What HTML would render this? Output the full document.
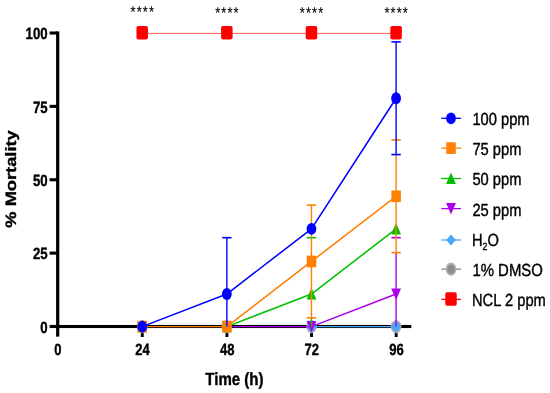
<!DOCTYPE html>
<html lang="en"><head><meta charset="utf-8"><title>% Mortality vs Time (h)</title>
<style>html,body{margin:0;padding:0;background:#fff}svg{display:block}text{font-family:"Liberation Sans", sans-serif;fill:#000;text-rendering:geometricPrecision}</style>
</head><body>
<svg width="550" height="393" viewBox="0 0 550 393">
<rect width="550" height="393" fill="#fff"/>
<g fill="#000">
<rect x="56.1" y="31.45" width="3.2" height="305.2"/>
<rect x="49.6" y="324.95" width="361.7" height="3.1"/>
<rect x="49.6" y="251.58" width="8" height="3.1"/>
<rect x="49.6" y="178.20" width="8" height="3.1"/>
<rect x="49.6" y="104.83" width="8" height="3.1"/>
<rect x="49.6" y="31.45" width="8" height="3.1"/>
<rect x="140.82" y="326" width="2.9" height="11"/>
<rect x="225.45" y="326" width="2.9" height="11"/>
<rect x="310.07" y="326" width="2.9" height="11"/>
<rect x="394.70" y="326" width="2.9" height="11"/>
</g>
<text transform="translate(47.60,332.90) scale(0.8120,1)" font-size="16.30" font-weight="700" text-anchor="end" stroke="#000" stroke-width="0.4" stroke-linejoin="round">0</text>
<text transform="translate(47.60,259.43) scale(0.8120,1)" font-size="16.30" font-weight="700" text-anchor="end" stroke="#000" stroke-width="0.4" stroke-linejoin="round">25</text>
<text transform="translate(47.60,186.10) scale(0.8120,1)" font-size="16.30" font-weight="700" text-anchor="end" stroke="#000" stroke-width="0.4" stroke-linejoin="round">50</text>
<text transform="translate(47.60,112.63) scale(0.8120,1)" font-size="16.30" font-weight="700" text-anchor="end" stroke="#000" stroke-width="0.4" stroke-linejoin="round">75</text>
<text transform="translate(47.60,38.85) scale(0.8120,1)" font-size="16.30" font-weight="700" text-anchor="end" stroke="#000" stroke-width="0.4" stroke-linejoin="round">100</text>
<text transform="translate(57.90,355.20) scale(0.8000,1)" font-size="16.30" font-weight="700" text-anchor="middle" stroke="#000" stroke-width="0.4" stroke-linejoin="round">0</text>
<text transform="translate(142.52,355.20) scale(0.8000,1)" font-size="16.30" font-weight="700" text-anchor="middle" stroke="#000" stroke-width="0.4" stroke-linejoin="round">24</text>
<text transform="translate(227.15,355.20) scale(0.8000,1)" font-size="16.30" font-weight="700" text-anchor="middle" stroke="#000" stroke-width="0.4" stroke-linejoin="round">48</text>
<text transform="translate(311.77,355.20) scale(0.8000,1)" font-size="16.30" font-weight="700" text-anchor="middle" stroke="#000" stroke-width="0.4" stroke-linejoin="round">72</text>
<text transform="translate(396.40,355.20) scale(0.8000,1)" font-size="16.30" font-weight="700" text-anchor="middle" stroke="#000" stroke-width="0.4" stroke-linejoin="round">96</text>
<text transform="translate(234.40,385.25) scale(0.8550,1)" font-size="17.60" font-weight="700" text-anchor="middle" stroke="#000" stroke-width="0.4" stroke-linejoin="round">Time (h)</text>
<text transform="translate(16.00,179.00) scale(0.8250,1) rotate(-90)" font-size="18.25" font-weight="700" text-anchor="middle" stroke="#000" stroke-width="0.4" stroke-linejoin="round">% Mortality</text>
<text transform="translate(130.52,16.65) scale(0.8250,1)" font-size="15.60" font-weight="400" text-anchor="start" letter-spacing="1.35" stroke="#000" stroke-width="0.2" stroke-linejoin="round">****</text>
<text transform="translate(215.15,18.15) scale(0.8250,1)" font-size="15.60" font-weight="400" text-anchor="start" letter-spacing="1.35" stroke="#000" stroke-width="0.2" stroke-linejoin="round">****</text>
<text transform="translate(299.77,18.15) scale(0.8250,1)" font-size="15.60" font-weight="400" text-anchor="start" letter-spacing="1.35" stroke="#000" stroke-width="0.2" stroke-linejoin="round">****</text>
<text transform="translate(384.40,18.15) scale(0.8250,1)" font-size="15.60" font-weight="400" text-anchor="start" letter-spacing="1.35" stroke="#000" stroke-width="0.2" stroke-linejoin="round">****</text>
<g>
<line x1="142.22" y1="33.4" x2="396.10" y2="33.4" stroke="#ff0000" stroke-width="0.65"/>
<rect x="136.47" y="25.90" width="11.5" height="13.5" rx="1.8" ry="1.8" fill="#ff0000"/>
<rect x="221.10" y="25.90" width="11.5" height="13.5" rx="1.8" ry="1.8" fill="#ff0000"/>
<rect x="305.72" y="25.90" width="11.5" height="13.5" rx="1.8" ry="1.8" fill="#ff0000"/>
<rect x="390.35" y="25.90" width="11.5" height="13.5" rx="1.8" ry="1.8" fill="#ff0000"/>
</g>
<g>
<ellipse cx="142.22" cy="326.60" rx="5.35" ry="6.6" fill="#b2b2b2"/>
<ellipse cx="142.22" cy="326.60" rx="3.9" ry="4.7" fill="#8c8c8c"/>
<ellipse cx="226.85" cy="326.60" rx="5.35" ry="6.6" fill="#b2b2b2"/>
<ellipse cx="226.85" cy="326.60" rx="3.9" ry="4.7" fill="#8c8c8c"/>
<ellipse cx="311.47" cy="326.60" rx="5.35" ry="6.6" fill="#b2b2b2"/>
<ellipse cx="311.47" cy="326.60" rx="3.9" ry="4.7" fill="#8c8c8c"/>
<ellipse cx="396.10" cy="326.60" rx="5.35" ry="6.6" fill="#b2b2b2"/>
<ellipse cx="396.10" cy="326.60" rx="3.9" ry="4.7" fill="#8c8c8c"/>
</g>
<g>
<line x1="311.47" y1="326.65" x2="396.10" y2="326.65" stroke="#4da6ff" stroke-width="1.3"/>
<polygon points="142.22,320.30 147.22,326.60 142.22,332.90 137.22,326.60" fill="#4da6ff"/>
<polygon points="226.85,320.30 231.85,326.60 226.85,332.90 221.85,326.60" fill="#4da6ff"/>
<polygon points="311.47,320.30 316.47,326.60 311.47,332.90 306.47,326.60" fill="#4da6ff"/>
<polygon points="396.10,320.30 401.10,326.60 396.10,332.90 391.10,326.60" fill="#4da6ff"/>
</g>
<g>
<line x1="396.10" y1="252.64" x2="396.10" y2="326.60" stroke="#aa00ee" stroke-width="1.4"/>
<line x1="391.40" y1="237.67" x2="400.80" y2="237.67" stroke="#aa00ee" stroke-width="1.6"/>
<line x1="226.85" y1="326.65" x2="311.47" y2="326.65" stroke="#aa00ee" stroke-width="1.3"/>
<polyline points="311.47,326.60 396.10,294.02" fill="none" stroke="#aa00ee" stroke-width="1.55" stroke-linejoin="round"/>
<polygon points="142.22,332.50 147.12,321.00 137.32,321.00" fill="#aa00ee"/>
<polygon points="226.85,332.50 231.75,321.00 221.95,321.00" fill="#aa00ee"/>
<polygon points="311.47,332.50 316.37,321.00 306.57,321.00" fill="#aa00ee"/>
<polygon points="396.10,299.92 401.00,288.42 391.20,288.42" fill="#aa00ee"/>
</g>
<g>
<line x1="311.47" y1="317.80" x2="311.47" y2="326.60" stroke="#00c000" stroke-width="1.4"/>
<line x1="306.77" y1="237.67" x2="316.17" y2="237.67" stroke="#00c000" stroke-width="1.6"/>
<polyline points="226.85,326.60 311.47,294.02 396.10,228.86" fill="none" stroke="#00c000" stroke-width="1.55" stroke-linejoin="round"/>
<polygon points="142.22,320.60 147.12,332.20 137.32,332.20" fill="#00c000"/>
<polygon points="226.85,320.60 231.75,332.20 221.95,332.20" fill="#00c000"/>
<polygon points="311.47,288.02 316.37,299.62 306.57,299.62" fill="#00c000"/>
<polygon points="396.10,222.86 401.00,234.46 391.20,234.46" fill="#00c000"/>
</g>
<g>
<line x1="311.47" y1="205.09" x2="311.47" y2="317.80" stroke="#ff8000" stroke-width="1.4"/>
<line x1="306.77" y1="205.09" x2="316.17" y2="205.09" stroke="#ff8000" stroke-width="1.6"/>
<line x1="306.77" y1="317.80" x2="316.17" y2="317.80" stroke="#ff8000" stroke-width="1.6"/>
<line x1="396.10" y1="154.61" x2="396.10" y2="252.64" stroke="#ff8000" stroke-width="1.4"/>
<line x1="391.40" y1="139.93" x2="400.80" y2="139.93" stroke="#ff8000" stroke-width="1.6"/>
<line x1="391.40" y1="252.64" x2="400.80" y2="252.64" stroke="#ff8000" stroke-width="1.6"/>
<line x1="142.22" y1="326.65" x2="226.85" y2="326.65" stroke="#ff8000" stroke-width="1.3"/>
<polyline points="226.85,326.60 311.47,261.44 396.10,196.29" fill="none" stroke="#ff8000" stroke-width="1.55" stroke-linejoin="round"/>
<rect x="137.47" y="320.80" width="9.5" height="11.6" fill="#ff8000"/>
<rect x="222.10" y="320.80" width="9.5" height="11.6" fill="#ff8000"/>
<rect x="306.72" y="255.64" width="9.5" height="11.6" fill="#ff8000"/>
<rect x="391.35" y="190.49" width="9.5" height="11.6" fill="#ff8000"/>
</g>
<g>
<line x1="226.85" y1="237.67" x2="226.85" y2="326.60" stroke="#0000ff" stroke-width="1.4"/>
<line x1="222.15" y1="237.67" x2="231.55" y2="237.67" stroke="#0000ff" stroke-width="1.6"/>
<line x1="396.10" y1="41.91" x2="396.10" y2="154.61" stroke="#0000ff" stroke-width="1.4"/>
<line x1="391.40" y1="41.91" x2="400.80" y2="41.91" stroke="#0000ff" stroke-width="1.6"/>
<line x1="391.40" y1="154.61" x2="400.80" y2="154.61" stroke="#0000ff" stroke-width="1.6"/>
<polyline points="142.22,326.60 226.85,294.02 311.47,228.86 396.10,98.26" fill="none" stroke="#0000ff" stroke-width="1.55" stroke-linejoin="round"/>
<ellipse cx="142.22" cy="326.60" rx="4.9" ry="5.9" fill="#0000ff"/>
<ellipse cx="226.85" cy="294.02" rx="4.9" ry="5.9" fill="#0000ff"/>
<ellipse cx="311.47" cy="228.86" rx="4.9" ry="5.9" fill="#0000ff"/>
<ellipse cx="396.10" cy="98.26" rx="4.9" ry="5.9" fill="#0000ff"/>
</g>
<line x1="441.3" y1="118.30" x2="461" y2="118.30" stroke="#0000ff" stroke-width="1.3"/>
<ellipse cx="451.00" cy="118.30" rx="4.9" ry="5.9" fill="#0000ff"/>
<text transform="translate(472.40,124.75) scale(0.8400,1)" font-size="17.50" font-weight="400" text-anchor="start" stroke="#000" stroke-width="0.4" stroke-linejoin="round">100 ppm</text>
<line x1="441.3" y1="148.10" x2="461" y2="148.10" stroke="#ff8000" stroke-width="1.3"/>
<rect x="446.25" y="142.30" width="9.5" height="11.6" fill="#ff8000"/>
<text transform="translate(472.40,155.00) scale(0.8400,1)" font-size="17.50" font-weight="400" text-anchor="start" stroke="#000" stroke-width="0.4" stroke-linejoin="round">75 ppm</text>
<line x1="441.3" y1="178.50" x2="461" y2="178.50" stroke="#00c000" stroke-width="1.3"/>
<polygon points="451.00,172.50 455.90,184.10 446.10,184.10" fill="#00c000"/>
<text transform="translate(472.40,185.25) scale(0.8400,1)" font-size="17.50" font-weight="400" text-anchor="start" stroke="#000" stroke-width="0.4" stroke-linejoin="round">50 ppm</text>
<line x1="441.3" y1="208.60" x2="461" y2="208.60" stroke="#aa00ee" stroke-width="1.3"/>
<polygon points="451.00,214.50 455.90,203.00 446.10,203.00" fill="#aa00ee"/>
<text transform="translate(472.40,215.50) scale(0.8400,1)" font-size="17.50" font-weight="400" text-anchor="start" stroke="#000" stroke-width="0.4" stroke-linejoin="round">25 ppm</text>
<line x1="441.3" y1="240.00" x2="461" y2="240.00" stroke="#4da6ff" stroke-width="1.3"/>
<polygon points="451.00,234.40 455.90,240.00 451.00,245.60 446.10,240.00" fill="#4da6ff"/>
<text transform="translate(471.90,245.75) scale(0.8400,1)" font-size="17.50" font-weight="400" text-anchor="start" stroke="#000" stroke-width="0.4" stroke-linejoin="round">H<tspan font-size="10.5" dy="4.0">2</tspan><tspan dy="-4.0">O</tspan></text>
<line x1="441.3" y1="269.20" x2="461" y2="269.20" stroke="#999999" stroke-width="1.5"/>
<ellipse cx="451.00" cy="269.20" rx="5.35" ry="6.6" fill="#b2b2b2"/>
<ellipse cx="451.00" cy="269.20" rx="3.9" ry="4.7" fill="#8c8c8c"/>
<text transform="translate(472.40,276.00) scale(0.8530,1)" font-size="17.50" font-weight="400" text-anchor="start" stroke="#000" stroke-width="0.4" stroke-linejoin="round">1% DMSO</text>
<line x1="441.3" y1="299.40" x2="461" y2="299.40" stroke="#ff0000" stroke-width="1.3"/>
<rect x="445.25" y="292.20" width="11.5" height="13.5" rx="1.8" ry="1.8" fill="#ff0000"/>
<text transform="translate(472.00,306.25) scale(0.8400,1)" font-size="17.50" font-weight="400" text-anchor="start" stroke="#000" stroke-width="0.4" stroke-linejoin="round">NCL 2 ppm</text>
</svg>
</body></html>
